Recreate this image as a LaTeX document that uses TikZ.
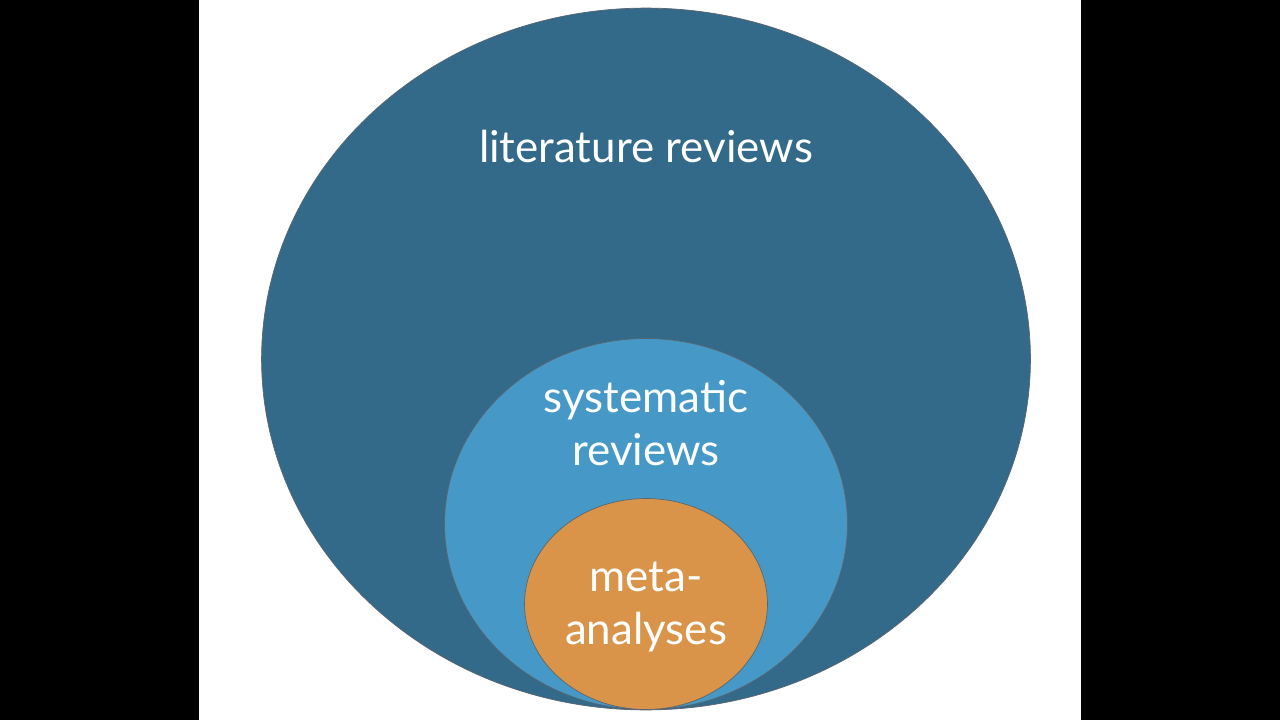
\documentclass[tikz,border=0pt]{standalone}
\usepackage{fontspec}
\setsansfont{Lato}
\usetikzlibrary{shapes.geometric,positioning}
\definecolor{litBlue}{HTML}{336A89}
\definecolor{sysBlue}{HTML}{4699C6}
\definecolor{metaOrange}{HTML}{D9944A}
\definecolor{rimGray}{HTML}{5A6570}
\tikzset{
    setEllipse/.style={ellipse, draw=rimGray, line width=0.4pt, inner sep=0pt},
    setLabel/.style={text=white, font=\fontsize{25}{30.6}\selectfont\sffamily, align=center, inner sep=0pt}
}
\begin{document}
\begin{tikzpicture}[x=0.02cm, y=-0.02cm]
% frame: black bars left and right
\useasboundingbox (0,0) rectangle (1280,720);
\fill[black] (0,0) rectangle (1280,720);
\fill[white] (199,0) rectangle (1081,720);

% nested sets
\node[setEllipse, fill=litBlue, minimum width=15.38cm, minimum height=14.04cm] (lit) at (646,359) {};
\node[setEllipse, fill=sysBlue, minimum width=8.06cm, minimum height=7.42cm] (sys) at (646,524) {};
\node[setEllipse, fill=metaOrange, minimum width=4.86cm, minimum height=4.22cm] (meta) at (646,604) {};

% labels
\node[setLabel] (litText) at (646,146) {literature reviews};
\node[setLabel] (sysText) at (646,423) {systematic\\reviews};
\node[setLabel] (metaText) at (646,607) {meta-\\analyses};
\end{tikzpicture}
\end{document}
